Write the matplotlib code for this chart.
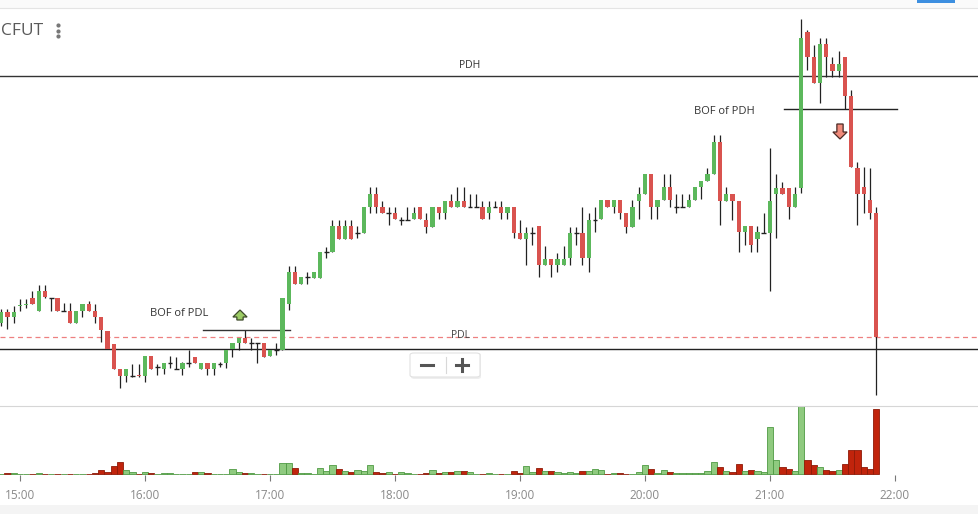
import numpy as np
import matplotlib.pyplot as plt
from matplotlib.patches import FancyBboxPatch, Rectangle, FancyArrow

plt.rcParams['font.family'] = ['Open Sans', 'DejaVu Sans']

# 3-minute candles, first one at 14:51 (minutes relative to 15:00)
start_min = -9
interval = 3

opens = [177, 188, 183, 194, 195, 202, 189, 209, 202, 202, 189, 189, 177, 189, 196, 189, 183, 169, 156, 131,
         124, 124, 125, 124, 144, 133, 131, 137, 131, 131, 137, 143, 131, 137, 131, 136, 137, 151, 157, 162,
         157, 157, 157, 144, 150, 150, 196, 228, 216, 223, 222, 222, 248, 248, 274, 261, 274, 267, 267, 293,
         306, 293, 287, 287, 280, 280, 281, 293, 280, 273, 293, 287, 299, 293, 299, 293, 293, 293, 287, 293,
         293, 287, 293, 267, 261, 267, 274, 235, 241, 235, 235, 242, 267, 267, 242, 280, 281, 300, 293, 300,
         287, 273, 299, 306, 326, 293, 300, 313, 293, 293, 293, 300, 313, 319, 326, 358, 299, 306, 299, 268,
         274, 261, 267, 267, 306, 312, 312, 293, 312, 468, 443, 417, 456, 436, 429, 443, 404, 332, 313, 300,
         287]
highs = [191, 191, 194, 201, 201, 209, 215, 215, 202, 202, 197, 197, 189, 196, 199, 196, 183, 169, 156, 131,
         131, 136, 136, 144, 144, 136, 137, 144, 143, 138, 150, 143, 137, 137, 137, 138, 150, 157, 162, 170,
         162, 157, 157, 150, 157, 202, 234, 234, 223, 228, 228, 248, 253, 280, 280, 280, 280, 274, 293, 313,
         313, 299, 293, 293, 283, 293, 293, 293, 287, 293, 293, 299, 306, 313, 313, 306, 306, 299, 299, 299,
         299, 293, 293, 280, 273, 273, 274, 254, 241, 247, 254, 273, 273, 293, 287, 293, 300, 300, 300, 300,
         287, 300, 313, 326, 326, 300, 326, 326, 306, 306, 306, 313, 319, 332, 365, 365, 313, 306, 299, 274,
         274, 274, 287, 352, 326, 318, 312, 313, 481, 470, 455, 462, 462, 443, 449, 443, 410, 338, 333, 332,
         293]
lows = [174, 171, 177, 189, 192, 196, 189, 202, 189, 189, 189, 177, 177, 183, 189, 177, 158, 151, 131, 112,
        118, 123, 123, 118, 131, 125, 126, 132, 131, 125, 133, 137, 131, 125, 125, 133, 132, 143, 150, 157,
        150, 137, 143, 144, 145, 150, 190, 216, 216, 216, 222, 222, 242, 248, 261, 261, 261, 262, 267, 287,
        287, 287, 275, 281, 275, 280, 281, 281, 267, 273, 281, 281, 293, 293, 293, 293, 293, 281, 281, 293,
        281, 281, 262, 261, 235, 255, 223, 235, 223, 228, 235, 235, 255, 235, 228, 268, 281, 293, 287, 281,
        267, 273, 281, 306, 281, 281, 300, 293, 287, 293, 293, 300, 301, 319, 326, 275, 299, 280, 248, 255,
        248, 248, 267, 209, 262, 306, 281, 293, 307, 430, 417, 397, 423, 423, 423, 391, 333, 275, 287, 281,
        105]
closes = [188, 183, 188, 195, 196, 196, 209, 203, 202, 189, 189, 177, 189, 196, 189, 183, 170, 151, 131, 124,
          131, 124, 124, 144, 131, 133, 137, 137, 131, 137, 137, 137, 137, 131, 137, 136, 150, 157, 162, 157,
          157, 157, 143, 150, 150, 202, 228, 216, 223, 223, 228, 248, 248, 274, 261, 274, 261, 267, 293, 306,
          293, 287, 287, 281, 280, 280, 287, 281, 273, 293, 287, 299, 293, 299, 293, 293, 293, 281, 293, 293,
          287, 293, 267, 261, 267, 267, 235, 241, 235, 241, 241, 267, 267, 242, 280, 280, 300, 293, 300, 287,
          273, 293, 306, 326, 293, 300, 313, 300, 293, 293, 300, 313, 319, 326, 358, 299, 306, 299, 268, 274,
          255, 268, 267, 299, 312, 306, 293, 306, 462, 443, 417, 456, 443, 429, 436, 404, 333, 306, 306, 287,
          163]
volumes = [0.5, 1.3, 0.7, 0.5, 0.5, 0.5, 1.0, 0.5, 0.5, 0.5, 0.0, 0.5, 0.5, 0.0, 0.5, 1.5, 3.7, 1.7, 8.3, 11.7,
           3.7, 1.7, 0.5, 1.7, 0.7, 0.5, 1.0, 1.0, 0.5, 0.5, 0.5, 2.0, 2.0, 1.0, 0.5, 0.5, 0.5, 4.7, 2.0, 1.0,
           0.7, 0.5, 0.0, 0.5, 0.5, 10.7, 10.7, 5.7, 0.7, 0.7, 0.5, 5.7, 3.0, 9.0, 5.0, 3.0, 1.7, 3.7, 3.0, 8.7,
           1.7, 0.7, 1.7, 0.5, 1.7, 0.7, 0.5, 0.5, 1.0, 3.7, 1.0, 1.7, 1.7, 2.7, 2.7, 1.7, 0.5, 0.5, 1.0, 0.5,
           0.5, 0.5, 2.7, 0.7, 8.0, 1.7, 5.7, 2.7, 2.7, 1.7, 0.7, 1.7, 0.7, 2.7, 3.3, 4.7, 3.7, 0.3, 0.7, 0.7,
           0.5, 0.5, 1.7, 8.7, 4.7, 0.7, 3.7, 1.7, 0.7, 0.7, 1.0, 1.0, 0.7, 2.7, 11.7, 6.7, 2.7, 1.7, 9.7, 2.7,
           3.7, 2.7, 1.7, 46.7, 13.7, 6.7, 4.7, 2.7, 68.0, 13.7, 8.7, 6.7, 3.7, 2.7, 3.7, 9.7, 23.7, 23.7, 6.7,
           4.7, 64.7]

pdh = 424
pdl = 151
last_price = 163
hour_ticks = [0, 60, 120, 180, 240, 300, 360, 420]
hour_labels = ['15:00', '16:00', '17:00', '18:00', '19:00', '20:00', '21:00', '22:00']

W, H = 979, 514
UP, DOWN = '#5cb85c', '#d9534f'


def fx(px):
    return px / W


def fy(py):
    return 1 - py / H


def do_plot():
    fig = plt.figure(figsize=(W / 100, H / 100), dpi=100)
    fig.patch.set_facecolor('white')

    o = np.array(opens, float)
    h = np.array(highs, float)
    l = np.array(lows, float)
    c = np.array(closes, float)
    v = np.array(volumes, float)
    t = start_min + interval * np.arange(len(o))
    up = c >= o
    xmin, xmax = (0 - 20) * 0.48, (W - 20) * 0.48

    # price pane
    ax = fig.add_axes([0, fy(405), 1, fy(9) - fy(405)])
    ax.set_xlim(xmin, xmax)
    ax.set_ylim(95, 491)
    ax.axis('off')

    ax.axhline(pdh, color='#333333', lw=1.0, zorder=1)
    ax.axhline(pdl, color='#222222', lw=1.0, zorder=1)
    ax.axhline(last_price, color='#ee8080', lw=0.9, ls=(0, (4, 3)), zorder=1)

    ax.vlines(t, l, h, color='#222222', lw=0.9, zorder=2)
    body = np.abs(c - o)
    flat = body < 0.8
    ax.bar(t[~flat], body[~flat], bottom=np.minimum(o, c)[~flat], width=2.1,
           color=np.where(up, UP, DOWN)[~flat], lw=0, zorder=3)
    ax.hlines(o[flat], t[flat] - 1.1, t[flat] + 1.1, color='#222222', lw=1.0, zorder=3)

    ax.text(216, 434, 'PDH', fontsize=7.5, color='#333333', ha='center', va='center')
    ax.text(211.5, 164, 'PDL', fontsize=7.5, color='#444444', ha='center', va='center')

    ax.text(62.4, 187, 'BOF of PDL', fontsize=8, color='#333333', ha='left', va='center')
    ax.plot([87.8, 129.6], [170, 170], color='#333333', lw=1.0)
    ax.add_patch(FancyArrow(105.6, 180, 0, 10, width=3.0, head_width=6.8, head_length=7,
                            length_includes_head=True, fc='#9ccc65', ec='#3d4a2a', lw=0.9, zorder=4))

    ax.text(323.5, 389, 'BOF of PDH', fontsize=8, color='#333333', ha='left', va='center')
    ax.plot([366.7, 421], [391, 391], color='#222222', lw=1.0)
    ax.add_patch(FancyArrow(393.6, 376, 0, -15, width=3.0, head_width=6.8, head_length=7,
                            length_includes_head=True, fc='#f08a7a', ec='#4a2a25', lw=0.9, zorder=4))

    # volume pane
    axv = fig.add_axes([0, fy(478), 1, fy(406) - fy(478)])
    axv.set_xlim(xmin, xmax)
    axv.set_ylim(-4, 68)
    for s in axv.spines.values():
        s.set_visible(False)
    axv.set_yticks([])
    axv.bar(t, v, width=3.0, color=np.where(up, '#8fca7f', '#c1240c'),
            edgecolor=np.where(up, '#4f9a43', '#8e1a08'), lw=0.6, zorder=2)
    axv.set_xticks(hour_ticks)
    axv.set_xticklabels(hour_labels)
    axv.tick_params(axis='x', length=4, direction='inout', width=0.8, color='#777777',
                    labelcolor='#8a8a8a', labelsize=8.5, pad=6)

    # chrome around the chart
    fig.add_artist(plt.Line2D([0, 1], [fy(406), fy(406)], color='#d6d6d6', lw=0.8))
    fig.add_artist(Rectangle((0, fy(8)), 1, fy(0) - fy(8), color='#fafafa', lw=0))
    fig.add_artist(plt.Line2D([0, 1], [fy(8), fy(8)], color='#e4e4e4', lw=0.8))
    fig.add_artist(Rectangle((fx(917), fy(3)), fx(38), fy(0) - fy(3), color='#3d8fe0', lw=0))
    fig.add_artist(Rectangle((0, fy(514)), 1, fy(505) - fy(514), color='#f4f4f4', lw=0))

    fig.text(fx(0.5), fy(31), 'CFUT', fontsize=12.5, color='#5a5a5a', ha='left', va='center')
    for yy in (25, 30.5, 36):
        fig.add_artist(plt.Line2D([fx(58)], [fy(yy)], marker='o', ms=2.0, color='#777777', lw=0))

    # zoom control
    fig.add_artist(FancyBboxPatch((fx(411), fy(379)), fx(70), fy(353) - fy(379),
                                  boxstyle='round,pad=0,rounding_size=0.004', fc='#eeeeee', ec='none'))
    fig.add_artist(FancyBboxPatch((fx(410), fy(377)), fx(70), fy(353) - fy(377),
                                  boxstyle='round,pad=0,rounding_size=0.004', fc='white', ec='#e2e2e2', lw=0.8))
    fig.add_artist(plt.Line2D([fx(446), fx(446)], [fy(357), fy(373)], color='#d8d8d8', lw=0.8))
    fig.add_artist(plt.Line2D([fx(421), fx(433)], [fy(365), fy(365)], color='#555555', lw=2.2))
    fig.add_artist(plt.Line2D([fx(456), fx(468)], [fy(365), fy(365)], color='#555555', lw=2.2))
    fig.add_artist(plt.Line2D([fx(462), fx(462)], [fy(359), fy(371)], color='#555555', lw=2.2))

    plt.savefig('out.png', dpi=100)


if __name__ == '__main__':
    do_plot()
